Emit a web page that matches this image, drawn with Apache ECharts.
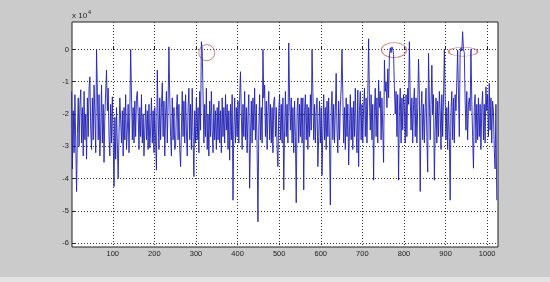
<!DOCTYPE html>
<html>
<head>
<meta charset="utf-8">
<script src="https://cdn.jsdelivr.net/npm/echarts@6/dist/echarts.min.js"></script>
<style>
html,body{margin:0;padding:0;background:#cbcbcb;}
#chart{width:550px;height:282px;}
</style>
</head>
<body>
<div id="chart"></div>
<script>
// sample indices: first sample and spacing between stored samples
const sampleStart = 1;
const sampleStep = 2;
// signal values (units of 1e4)
const signal = [
 -1.3,-3.7,-1.9,-3.2,-1.4,-2.9,-4.4,-2.6,-1.5,-3.0,-1.7,-1.25,-2.9,-1.8,-3.3,-1.3,-2.8,-2.0,-3.4,-1.5,-2.7,-1.2,-0.85,-2.5,-3.1,
 -1.5,-2.8,-1.1,-2.0,-3.2,0.0,-1.3,-2.8,-1.4,-3.3,-2.5,-1.1,-2.9,-1.7,-3.5,-2.0,-1.3,-0.64,-1.9,-1.2,-2.7,-3.3,-1.7,-2.9,-1.47,
 -2.8,-4.25,-2.1,-3.4,-1.8,-3.0,-4.0,-2.6,-1.5,-1.47,-2.9,-1.9,-3.3,-1.8,-2.8,-1.4,-3.1,-2.5,-1.7,-3.2,-2.0,0.0,-1.4,-2.8,-1.8,
 -2.9,-1.6,-2.7,-1.5,-1.3,-2.0,-3.1,-1.8,-2.7,-1.4,-2.9,-2.0,-3.3,-2.5,-1.7,-2.8,-1.9,-3.1,-1.7,-3.05,-2.5,-1.5,-2.9,-1.9,-3.2,
 -1.8,-2.9,-3.74,-0.64,-2.0,-3.1,-1.5,-2.8,-1.8,-1.03,-2.7,-1.6,-3.3,-2.0,-1.3,-2.9,-1.7,0.08,-1.5,-2.7,-3.3,-1.5,-2.8,-1.8,-3.1,
 -3.0,-1.9,-1.4,-2.8,-1.7,-3.1,-3.63,-2.5,-1.3,-2.7,-1.6,-2.9,-1.4,-2.5,-3.3,-1.8,-1.2,-2.8,-1.7,-3.1,-1.2,-2.7,-3.94,-1.9,-2.9,
 -1.5,-2.8,-1.8,-3.2,-1.3,-2.5,0.24,0.0,-1.4,-2.9,-1.7,-2.7,-1.2,-3.1,-2.0,-3.3,-1.6,-2.7,-1.3,-2.5,-3.2,-1.7,-2.8,-1.9,-3.1,
 -1.8,-2.8,-1.6,-2.9,-1.9,-3.2,-1.5,-2.7,-1.8,-2.9,-1.4,-2.5,-1.7,-3.1,-1.9,-3.43,-1.7,-2.8,-1.4,-4.67,-2.5,-1.5,-2.9,-1.8,-2.7,
 -1.6,-2.9,-1.5,-0.69,-2.0,-3.1,-1.7,-2.7,-1.3,-2.8,-1.8,-3.2,-2.0,-1.4,-4.3,-2.7,-1.6,-2.9,-1.5,-2.5,-1.2,-2.8,-1.7,-3.1,-5.34,
 -2.5,-1.4,-2.8,-1.8,-2.9,0.0,-1.5,-1.1,-2.7,-1.6,-3.1,-1.9,-1.3,-2.8,-1.7,-2.9,-1.8,-3.2,-1.6,-1.47,-2.7,-1.8,-3.1,-3.63,-1.9,
 -1.4,-2.8,-1.7,-2.9,-1.5,-4.35,-2.5,-1.3,-2.7,-1.7,-2.9,0.2,-1.5,-2.5,-1.5,-2.9,-1.8,-3.2,-1.6,-2.7,-4.75,-1.9,-1.5,-2.9,-1.7,
 -2.7,-1.5,-2.9,-1.5,-4.35,-1.9,-1.4,-2.8,-1.7,-3.1,-1.8,-2.7,-1.4,-2.5,0.0,-1.3,-2.8,-1.7,-2.9,-1.9,-1.5,-3.63,-2.7,-1.6,-2.9,
 -1.8,-3.9,-2.5,-1.4,-2.8,-1.8,-3.1,-1.6,-2.7,-1.5,-2.9,-4.82,-1.9,-1.3,-2.8,-1.7,-2.9,-1.9,-0.74,-2.5,-3.2,-1.6,-2.8,-1.8,-1.2,
 0.0,-1.4,-2.9,-1.8,-3.1,-1.5,-2.7,-1.7,-3.58,-2.5,-1.4,-2.8,-1.8,-3.1,-1.6,-2.7,-1.2,-2.5,-3.2,-1.26,-3.63,-1.9,-1.3,-2.8,-1.7,
 -2.9,-1.8,-1.2,-2.7,-1.5,-2.9,-1.4,0.33,-1.5,-2.5,-1.4,-2.8,-1.7,-4.05,-1.9,-1.2,-2.7,-1.5,-2.9,-0.95,-1.8,-1.3,-2.8,-1.5,-2.5,
 -3.5,-0.33,-1.3,-1.0,-1.8,-0.6,-1.5,-0.2,0.05,-0.1,0.08,0.0,-0.15,-1.2,-2.0,-1.3,-2.7,-1.4,-4.05,-1.9,-1.2,-2.9,-1.5,-2.5,-1.4,
 -1.8,-2.9,-1.4,-2.7,-1.2,-1.7,0.24,-1.5,-2.5,-1.5,-2.9,-1.7,-1.2,-2.7,-1.5,-2.9,-1.8,-0.3,-1.4,-4.4,-1.9,-1.3,-2.8,-1.7,-2.9,
 -1.8,-1.2,-2.7,-3.8,-0.12,-1.5,-2.8,-1.7,-0.49,-2.0,-1.4,-4.05,-2.5,-1.5,-2.9,-1.6,-2.7,-1.3,-1.9,-3.1,-1.4,-2.7,-1.5,0.0,-1.5,
 -2.8,-1.8,-3.1,-1.6,-2.7,-4.67,-1.9,-1.3,-2.8,-1.5,-2.9,-1.4,-1.9,-1.0,-0.02,-1.4,-2.7,-0.1,0.05,-0.05,0.55,0.0,-0.1,-1.6,-2.5,
 -1.3,-2.8,-1.7,-1.5,-1.9,0.0,-1.6,-2.7,-3.68,-1.8,-1.4,-2.9,-1.7,-2.8,-1.5,-2.7,-1.7,-3.1,-1.8,-1.3,-2.8,-1.7,-2.9,-1.16,-1.9,
 -1.4,-2.7,-1.05,-2.5,-1.5,-2.9,-1.6,-1.9,-3.1,-3.7,-1.7,-4.67
];
// x tick labels and y tick labels
const xTicks = [100,200,300,400,500,600,700,800,900,1000];
const yTicks = [0,-1,-2,-3,-4,-5,-6];
// annotation ellipse centres [sample, value] and sizes
const marks = [[326,-0.1],[776,-0.02],[942,-0.07]];
const markSizes = [[16,16],[25,15],[29,9]];

const lineData = signal.map((v,i)=>[sampleStart + i*sampleStep, v]);

const chart = echarts.init(document.getElementById('chart'), null, {renderer:'canvas'});
const font = '"Liberation Sans", Arial, sans-serif';
chart.setOption({
  backgroundColor:'#cbcbcb',
  animation:false,
  grid:{left:72,top:22,right:52,bottom:35,show:true,backgroundColor:'#ffffff',borderColor:'#222',borderWidth:1},
  xAxis:{
    type:'value',min:2,max:1026,
    axisLine:{show:false},
    axisTick:{show:true,inside:true,length:3,customValues:xTicks,lineStyle:{color:'#222'}},
    axisLabel:{customValues:xTicks,formatter:v=>String(v),fontSize:7.5,color:'#222',fontFamily:font,margin:3},
    splitLine:{show:true,lineStyle:{color:'#333',type:[1,2],width:1}}
  },
  yAxis:{
    type:'value',min:-6.12,max:0.85,
    axisLine:{show:false},
    axisTick:{show:true,inside:true,length:3,customValues:yTicks,lineStyle:{color:'#222'}},
    axisLabel:{customValues:yTicks,formatter:v=>String(v),fontSize:7.5,color:'#222',fontFamily:font,margin:3},
    splitLine:{show:true,lineStyle:{color:'#333',type:[1,2],width:1}}
  },
  series:[
    {type:'line',data:lineData,showSymbol:false,symbol:'none',
     lineStyle:{color:'#2020b4',width:0.9},silent:true},
    {type:'scatter',data:marks.map((m,i)=>({value:m,symbolSize:markSizes[i]})),symbol:'circle',
     itemStyle:{color:'rgba(0,0,0,0)',borderColor:'#c06060',borderWidth:1},silent:true}
  ],
  graphic:[
    {type:'rect',left:0,top:277,shape:{width:550,height:5},style:{fill:'#e3e3e3'}},
    {type:'text',left:72,top:9,style:{
      text:'{a|x 10}{b|4}',
      rich:{a:{fontSize:8,fill:'#222',fontFamily:font,verticalAlign:'bottom'},
            b:{fontSize:5.5,fill:'#222',fontFamily:font,padding:[0,0,5,1]}}
    }}
  ]
});
</script>
</body>
</html>
